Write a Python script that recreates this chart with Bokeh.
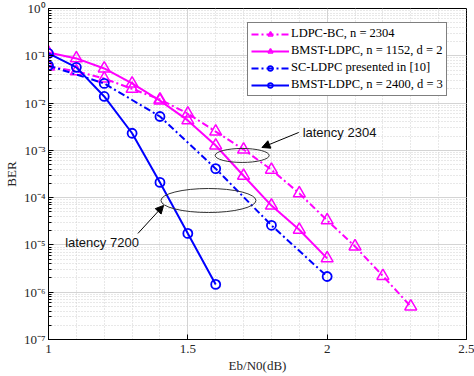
from bokeh.plotting import figure
from bokeh.models import (Range1d, FixedTicker, LogTicker, CustomJSTickFormatter, Legend, LegendItem,
                          Arrow, NormalHead)
from bokeh.core.properties import value
from bokeh.embed import file_html
from bokeh.resources import INLINE

# ---- data ----
x_ldpc_bc = [1.0, 1.1, 1.2, 1.3, 1.4, 1.5, 1.6, 1.7, 1.8, 1.9, 2.0, 2.1, 2.2, 2.3]
ber_ldpc_bc = [0.059, 0.047, 0.033, 0.020, 0.0119, 0.0060, 0.0025, 0.00104,
               3.9e-4, 1.23e-4, 3.3e-5, 9.3e-6, 2.2e-6, 5.0e-7]

x_bmst_1152 = [1.0, 1.1, 1.2, 1.3, 1.4, 1.5, 1.6, 1.7, 1.8, 1.9, 2.0]
ber_bmst_1152 = [0.117, 0.088, 0.054, 0.026, 0.0113, 0.0043, 0.00127,
                 2.9e-4, 6.8e-5, 2.1e-5, 5.2e-6]

x_sc_ldpc = [1.0, 1.2, 1.4, 1.6, 1.8, 2.0]
ber_sc_ldpc = [0.062, 0.026, 0.0052, 4.1e-4, 2.6e-5, 2.15e-6]

x_bmst_2400 = [1.0, 1.1, 1.2, 1.3, 1.4, 1.5, 1.6]
ber_bmst_2400 = [0.112, 0.057, 0.0138, 0.0023, 2.1e-4, 1.75e-5, 1.46e-6]

labels = ["LDPC-BC, n = 2304", "BMST-LDPC, n = 1152, d = 2",
          "SC-LDPC presented in [10]", "BMST-LDPC, n = 2400, d = 3"]
x_ticks = [1.0, 1.5, 2.0, 2.5]
x_minor = [1.1, 1.2, 1.3, 1.4, 1.6, 1.7, 1.8, 1.9, 2.1, 2.2, 2.3, 2.4]

SERIF = "Liberation Serif"
SANS = "Liberation Sans"
MAG = "#FF00FF"
BLUE = "#0000FF"

p = figure(width=474, height=376, y_axis_type="log",
           x_range=Range1d(1, 2.5), y_range=Range1d(1e-7, 1),
           output_backend="svg", toolbar_location=None,
           min_border_left=45, min_border_right=8, min_border_top=8, min_border_bottom=37)
p.outline_line_color = "black"
p.outline_line_width = 1
p.background_fill_color = "white"
p.border_fill_color = "white"

# axes
p.xaxis.ticker = FixedTicker(ticks=x_ticks, minor_ticks=x_minor)
p.xaxis.formatter = CustomJSTickFormatter(code="return tick.toString();")
p.yaxis.ticker = LogTicker(num_minor_ticks=10)
p.yaxis.formatter = CustomJSTickFormatter(code="""
const e = Math.round(Math.log10(tick));
const sup = {'-':'\u207b','0':'\u2070','1':'\u00b9','2':'\u00b2','3':'\u00b3','4':'\u2074','5':'\u2075','6':'\u2076','7':'\u2077','8':'\u2078','9':'\u2079'};
return '10' + String(e).split('').map(c => sup[c]).join('');
""")
for ax in (p.xaxis[0], p.yaxis[0]):
    ax.axis_line_color = "black"
    ax.major_tick_in = 5
    ax.major_tick_out = 0
    ax.minor_tick_in = 3
    ax.minor_tick_out = 0
    ax.major_label_text_font = SERIF
    ax.major_label_text_font_size = "13px"
    ax.major_label_text_color = "#262626"
    ax.axis_label_text_font = SERIF
    ax.axis_label_text_font_size = "13px"
    ax.axis_label_text_font_style = "normal"
    ax.axis_label_text_color = "#262626"
p.xaxis.minor_tick_line_color = None
p.xaxis.axis_label = "Eb/N0(dB)"
p.yaxis.axis_label = "BER"
p.xaxis.major_label_standoff = 5
p.xaxis.axis_label_standoff = 2
p.yaxis.major_label_standoff = 3
p.yaxis.axis_label_standoff = 2

# grids
for g in (p.xgrid[0], p.ygrid[0]):
    g.grid_line_color = "#d4d4d4"
    g.grid_line_width = 1
    g.minor_grid_line_color = "#d0d0d0"
    g.minor_grid_line_dash = "1 2"
    g.minor_grid_line_width = 1

# series
r1l = p.line(x_ldpc_bc, ber_ldpc_bc, line_color=MAG, line_width=2, line_dash="7 3 2 3")
r1s = p.scatter(x_ldpc_bc, ber_ldpc_bc, marker="triangle", size=12, line_color=MAG,
                line_width=1.5, fill_color=None)
r2l = p.line(x_bmst_1152, ber_bmst_1152, line_color=MAG, line_width=2)
r2s = p.scatter(x_bmst_1152, ber_bmst_1152, marker="triangle", size=12, line_color=MAG,
                line_width=1.5, fill_color=None)
r3l = p.line(x_sc_ldpc, ber_sc_ldpc, line_color=BLUE, line_width=2, line_dash="7 3 2 3")
r3s = p.scatter(x_sc_ldpc, ber_sc_ldpc, marker="circle", size=9, line_color=BLUE,
                line_width=1.8, fill_color=None)
r4l = p.line(x_bmst_2400, ber_bmst_2400, line_color=BLUE, line_width=2)
r4s = p.scatter(x_bmst_2400, ber_bmst_2400, marker="circle", size=9, line_color=BLUE,
                line_width=1.8, fill_color=None)

# annotations
p.ellipse(x=[1.695], y=[7.8e-4], width=54, height=14, width_units="screen",
          height_units="screen", fill_color=None, line_color="#333333", line_width=1)
p.ellipse(x=[1.574], y=[8.7e-5], width=95, height=24, width_units="screen",
          height_units="screen", fill_color=None, line_color="#333333", line_width=1)
p.add_layout(Arrow(end=NormalHead(size=8, fill_color="black", line_color="black"),
                   x_start=1.898, y_start=2.39e-3, x_end=1.766, y_end=1.15e-3,
                   line_color="black", line_width=1))
p.add_layout(Arrow(end=NormalHead(size=8, fill_color="black", line_color="black"),
                   x_start=1.321, y_start=1.75e-5, x_end=1.413, y_end=6.84e-5,
                   line_color="black", line_width=1))
p.text(x=[1.912], y=[2.39e-3], text=["latency 2304"], text_font=value(SANS),
       text_font_size="13px", text_baseline="middle", text_align="left", text_color="#111111")
p.text(x=[1.192], y=[1.13e-5], text=["latency 7200"], text_font=value(SANS),
       text_font_size="13px", text_baseline="middle", text_align="center", text_color="#111111")

legend = Legend(items=[LegendItem(label=labels[0], renderers=[r1l, r1s]),
                       LegendItem(label=labels[1], renderers=[r2l, r2s]),
                       LegendItem(label=labels[2], renderers=[r3l, r3s]),
                       LegendItem(label=labels[3], renderers=[r4l, r4s])],
                location=(199, 243))
legend.label_text_font = SERIF
legend.label_text_font_size = "12.5px"
legend.label_text_color = "black"
legend.glyph_width = 38
legend.glyph_height = 12
legend.label_height = 12
legend.label_standoff = 2
legend.spacing = 2
legend.padding = 3
legend.margin = 0
legend.border_line_color = "black"
legend.border_line_width = 1
legend.background_fill_alpha = 1
p.add_layout(legend, "center")

open("out.html", "w").write(file_html(p, INLINE))
